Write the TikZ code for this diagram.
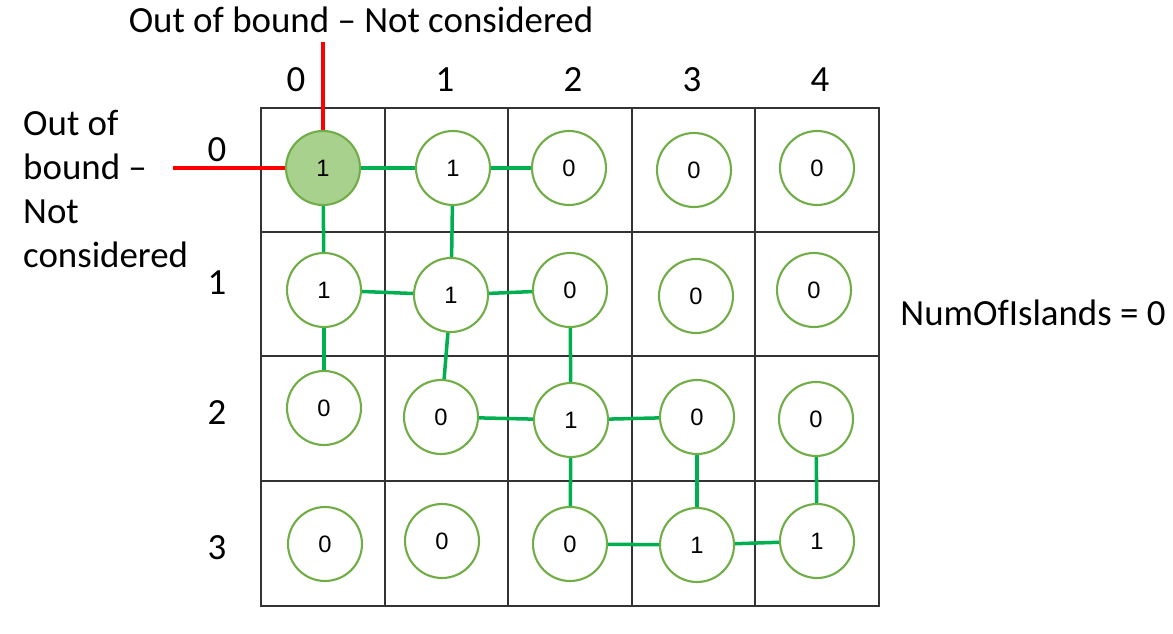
\documentclass[tikz,border=0pt]{standalone}
\usepackage{fontspec}
\setmainfont{Carlito}
\newfontfamily\digitfont{Liberation Sans}
\definecolor{cellgreen}{HTML}{70AD47}
\definecolor{fillgreen}{HTML}{A9D18E}
\definecolor{linkgreen}{HTML}{00B050}
\tikzset{
  cell/.style={circle, draw=cellgreen, line width=1.2pt, minimum size=1.48cm, inner sep=0pt, font=\digitfont\fontsize{13.5}{16}\selectfont},
  link/.style={draw=linkgreen, line width=2pt},
  bound/.style={draw=red, line width=1.8pt},
  label/.style={font=\fontsize{21}{25}\selectfont}
}
\begin{document}
\begin{tikzpicture}[x=0.02cm, y=-0.02cm]
			\useasboundingbox (0,0) rectangle (1173,634);
			% grid
			\draw[line width=0.8pt, black!80] (261,108) rectangle (879,606);
			\draw[line width=0.8pt, black!80] (385,108)--(385,606);
			\draw[line width=0.8pt, black!80] (508,108)--(508,606);
			\draw[line width=0.8pt, black!80] (632,108)--(632,606);
			\draw[line width=0.8pt, black!80] (755,108)--(755,606);
			\draw[line width=0.8pt, black!80] (261,232)--(879,232);
			\draw[line width=0.8pt, black!80] (261,356)--(879,356);
			\draw[line width=0.8pt, black!80] (261,481)--(879,481);
			% cells
			\node[cell, fill=fillgreen] (c00) at (323,168) {1};
			\node[cell] (c10) at (453,168) {1};
			\node[cell] (c20) at (569,168) {0};
			\node[cell] (c30) at (694,170) {0};
			\node[cell] (c40) at (817,168) {0};
			\node[cell] (c01) at (324,290) {1};
			\node[cell] (c11) at (451,295) {1};
			\node[cell] (c21) at (570,290) {0};
			\node[cell] (c31) at (696,296) {0};
			\node[cell] (c41) at (814,290) {0};
			\node[cell] (c02) at (324,408) {0};
			\node[cell] (c12) at (441,417) {0};
			\node[cell] (c22) at (571,420) {1};
			\node[cell] (c32) at (697,417) {0};
			\node[cell] (c42) at (816,419) {0};
			\node[cell] (c03) at (325,544) {0};
			\node[cell] (c13) at (442,541) {0};
			\node[cell] (c23) at (570,544) {0};
			\node[cell] (c33) at (697,545) {1};
			\node[cell] (c43) at (817,541) {1};
			% links
			\draw[link] (c00)--(c10);
			\draw[link] (c10)--(c20);
			\draw[link] (c00)--(c01);
			\draw[link] (c10)--(c11);
			\draw[link] (c01)--(c11);
			\draw[link] (c11)--(c21);
			\draw[link] (c01)--(c02);
			\draw[link] (c11)--(c12);
			\draw[link] (c21)--(c22);
			\draw[link] (c12)--(c22);
			\draw[link] (c22)--(c32);
			\draw[link] (c22)--(c23);
			\draw[link] (c32)--(c33);
			\draw[link] (c42)--(c43);
			\draw[link] (c23)--(c33);
			\draw[link] (c33)--(c43);
			% out of bound
			\coordinate (topend) at (323,42);
			\coordinate (leftend) at (173,168);
			\draw[bound] (topend)--(c00);
			\draw[bound] (leftend)--(c00);
			\node[label] (topnote) at (361,20) {Out of bound -- Not considered};
			\node[label, anchor=west, align=left] (leftnote) at (17,189) {Out of\\bound --\\Not\\considered};
			\node[label] (result) at (1033,313) {NumOfIslands = 0};
			% indices
			\node[label] (col0) at (296,80) {0};
			\node[label] (col1) at (445,80) {1};
			\node[label] (col2) at (573,80) {2};
			\node[label] (col3) at (692,80) {3};
			\node[label] (col4) at (820,80) {4};
			\node[label] (row0) at (217,150) {0};
			\node[label] (row1) at (217,283) {1};
			\node[label] (row2) at (217,413) {2};
			\node[label] (row3) at (217,548) {3};
		\end{tikzpicture}
\end{document}
